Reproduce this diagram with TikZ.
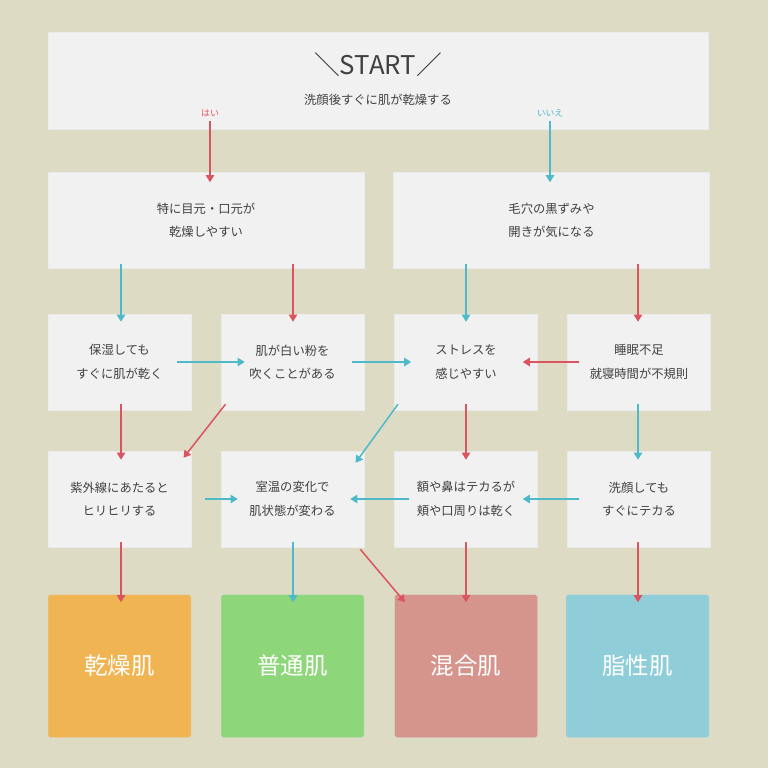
\documentclass[tikz,border=0pt]{standalone}
\usepackage{fontspec}
\setmainfont{Noto Sans CJK JP}
\usetikzlibrary{arrows.meta}
\definecolor{bg}{HTML}{DEDBC4}
\definecolor{boxgray}{HTML}{F1F1F1}
\definecolor{yesred}{HTML}{DB5560}
\definecolor{noteal}{HTML}{4DB9C9}
\definecolor{dryc}{HTML}{F0B552}
\definecolor{normc}{HTML}{8ED67A}
\definecolor{mixc}{HTML}{D6958C}
\definecolor{oilc}{HTML}{8FCDD8}
\tikzset{
  qbox/.style={fill=boxgray, draw=black!8, minimum width=143*0.3mm, minimum height=96*0.3mm, align=center, font=\fontsize{10.5}{20}\selectfont, text=black!75, inner sep=0pt},
  widebox/.style={qbox, minimum width=316*0.3mm},
  result/.style={draw=black!15, rounded corners=2pt, minimum width=143*0.3mm, minimum height=143*0.3mm, font=\fontsize{20}{24}\selectfont, text=white, inner sep=0pt},
  yes/.style={-{Triangle[length=6pt,width=7pt]}, yesred, line width=1.3pt},
  no/.style={-{Triangle[length=6pt,width=7pt]}, noteal, line width=1.3pt},
}
\begin{document}
\begin{tikzpicture}[x=0.3mm, y=-0.3mm]
    \useasboundingbox[fill=bg] (0,0) rectangle (768,768);

    % Start
    \node[qbox, minimum width=660*0.3mm, minimum height=97*0.3mm] (start) at (378,80.5) {};
    \node[font=\fontsize{22}{24}\selectfont, text=black!75] (starttitle) at (378,65) {＼START／};
    \node[font=\fontsize{10.5}{12}\selectfont, text=black!75] (startq) at (378,100) {洗顔後すぐに肌が乾燥する};
    \node[font=\fontsize{7.5}{8}\selectfont, text=yesred] (hai) at (210,113) {はい};
    \node[font=\fontsize{7.5}{8}\selectfont, text=noteal] (iie) at (550,113) {いいえ};

    % Second row
    \node[widebox] (eyes) at (206,220.5) {特に目元・口元が\\乾燥しやすい};
    \node[widebox] (pores) at (551.5,220.5) {毛穴の黒ずみや\\開きが気になる};

    % Third row
    \node[qbox] (moist) at (119.5,362) {保湿しても\\すぐに肌が乾く};
    \node[qbox] (powder) at (292.5,362) {肌が白い粉を\\吹くことがある};
    \node[qbox] (stress) at (466,362) {ストレスを\\感じやすい};
    \node[qbox] (sleep) at (639,362) {睡眠不足\\就寝時間が不規則};

    % Fourth row
    \node[qbox] (uv) at (119.5,499) {紫外線にあたると\\ヒリヒリする};
    \node[qbox] (temp) at (292.5,499) {室温の変化で\\肌状態が変わる};
    \node[qbox] (tzone) at (466,499) {額や鼻はテカるが\\頬や口周りは乾く};
    \node[qbox] (shine) at (639,499) {洗顔しても\\すぐにテカる};

    % Results
    \node[result, fill=dryc] (dry) at (119.5,666) {乾燥肌};
    \node[result, fill=normc] (normal) at (292.5,666) {普通肌};
    \node[result, fill=mixc] (mixed) at (466,666) {混合肌};
    \node[result, fill=oilc] (oily) at (637.5,666) {脂性肌};

    % Start arrows
    \draw[yes] (hai.south) -- ([xshift=4*0.3mm, yshift=-10*0.3mm]eyes.north);
    \draw[no] (iie.south) -- ([xshift=-1.5*0.3mm, yshift=-10*0.3mm]pores.north);

    % Second row arrows
    \draw[no] ([xshift=-85*0.3mm, yshift=5*0.3mm]eyes.south) -- ([xshift=1.5*0.3mm, yshift=-8*0.3mm]moist.north);
    \draw[yes] ([xshift=87*0.3mm, yshift=5*0.3mm]eyes.south) -- ([xshift=0.5*0.3mm, yshift=-8*0.3mm]powder.north);
    \draw[no] ([xshift=-85.5*0.3mm, yshift=5*0.3mm]pores.south) -- ([yshift=-8*0.3mm]stress.north);
    \draw[yes] ([xshift=86.5*0.3mm, yshift=5*0.3mm]pores.south) -- ([xshift=-1*0.3mm, yshift=-8*0.3mm]sleep.north);

    % Third row arrows
    \draw[no] ([xshift=-14*0.3mm]moist.east) -- ([xshift=24*0.3mm]powder.west);
    \draw[no] ([xshift=-12*0.3mm]powder.east) -- ([xshift=17*0.3mm]stress.west);
    \draw[yes] ([xshift=12*0.3mm]sleep.west) -- ([xshift=-15*0.3mm]stress.east);
    \draw[yes] ([xshift=-67*0.3mm, yshift=6*0.3mm]powder.south) -- ([xshift=64*0.3mm, yshift=-7*0.3mm]uv.north);
    \draw[no] ([xshift=-68*0.3mm, yshift=6*0.3mm]stress.south) -- ([xshift=63*0.3mm, yshift=-12*0.3mm]temp.north);
    \draw[yes] ([xshift=1.5*0.3mm, yshift=6*0.3mm]moist.south) -- ([xshift=1.5*0.3mm, yshift=-9*0.3mm]uv.north);
    \draw[yes] ([yshift=6*0.3mm]stress.south) -- ([yshift=-9*0.3mm]tzone.north);
    \draw[no] ([xshift=-1*0.3mm, yshift=6*0.3mm]sleep.south) -- ([xshift=-1*0.3mm, yshift=-9*0.3mm]shine.north);

    % Fourth row arrows
    \draw[no] ([xshift=14*0.3mm]uv.east) -- ([xshift=17*0.3mm]temp.west);
    \draw[no] ([xshift=15*0.3mm]tzone.west) -- ([xshift=-14*0.3mm]temp.east);
    \draw[no] ([xshift=12*0.3mm]shine.west) -- ([xshift=-15*0.3mm]tzone.east);

    % Result arrows
    \draw[yes] ([xshift=1.5*0.3mm, yshift=5*0.3mm]uv.south) -- ([xshift=1.5*0.3mm, yshift=-8*0.3mm]dry.north);
    \draw[no] ([xshift=0.5*0.3mm, yshift=5*0.3mm]temp.south) -- ([xshift=0.5*0.3mm, yshift=-8*0.3mm]normal.north);
    \draw[yes] ([xshift=-4*0.3mm, yshift=-2*0.3mm]temp.east |- temp.south) -- ([xshift=-61*0.3mm, yshift=-8*0.3mm]mixed.north);
    \draw[yes] ([yshift=5*0.3mm]tzone.south) -- ([yshift=-8*0.3mm]mixed.north);
    \draw[yes] ([xshift=-1*0.3mm, yshift=5*0.3mm]shine.south) -- ([xshift=0.5*0.3mm, yshift=-8*0.3mm]oily.north);
\end{tikzpicture}
\end{document}
